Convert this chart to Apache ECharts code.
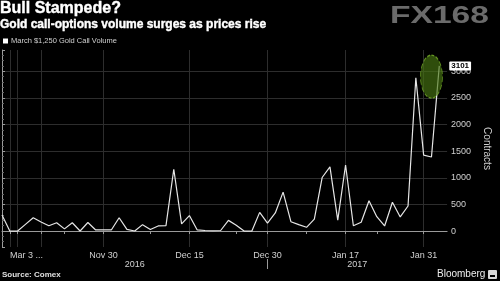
<!DOCTYPE html>
<html>
<head>
<meta charset="utf-8">
<script src="https://cdn.jsdelivr.net/npm/echarts@6/dist/echarts.min.js"></script>
<style>
  html, body { margin: 0; padding: 0; background: #000; }
  #chart { width: 500px; height: 281px; }
</style>
</head>
<body>
<div id="chart"></div>
<script>
// trading days on the category axis (last one is an empty slot at the right edge)
const dates = [
  '2016-03-01', '2016-03-02', '2016-03-03', '2016-11-15', '2016-11-16', '2016-11-17',
  '2016-11-18', '2016-11-21', '2016-11-22', '2016-11-23', '2016-11-25', '2016-11-28',
  '2016-11-29', '2016-11-30', '2016-12-01', '2016-12-02', '2016-12-05', '2016-12-06',
  '2016-12-07', '2016-12-08', '2016-12-09', '2016-12-12', '2016-12-13', '2016-12-14',
  '2016-12-15', '2016-12-16', '2016-12-19', '2016-12-20', '2016-12-21', '2016-12-22',
  '2016-12-23', '2016-12-27', '2016-12-28', '2016-12-29', '2016-12-30', '2017-01-03',
  '2017-01-04', '2017-01-05', '2017-01-06', '2017-01-09', '2017-01-10', '2017-01-11',
  '2017-01-12', '2017-01-13', '2017-01-17', '2017-01-18', '2017-01-19', '2017-01-20',
  '2017-01-23', '2017-01-24', '2017-01-25', '2017-01-26', '2017-01-27', '2017-01-30',
  '2017-01-31', '2017-02-01', '2017-02-02', '2017-02-03'
]

// March $1,250 gold call volume (contracts)
const volume = [
  300, 0, 0, 125, 250, 170, 100, 155, 40, 155,
  0, 160, 20, 20, 20, 250, 30, 0, 120, 30,
  95, 100, 1160, 135, 290, 20, 10, 5, 10, 200,
  110, 0, 0, 350, 150, 340, 730, 175, 120, 70,
  225, 1005, 1205, 205, 1240, 100, 165, 570, 270, 95,
  540, 265, 470, 2880, 1425, 1390, 3101, '-'
]

// x axis labels / ticks / gridlines (category indexes)
const labelIdx = [2, 13, 24, 34, 44, 54]
const labelText = ['Mar 3 ...', 'Nov 30', 'Dec 15', 'Dec 30', 'Jan 17', 'Jan 31']
const tickIdx = [1, 2, 5, 8, 13, 19, 24, 30, 34, 39, 44, 48, 54]
const gridIdx = [1, 2, 5, 13, 24, 34, 44, 54]

// year band: 2016 runs up to the Dec 30 slot
const years = ['2016', '2017']
const yearBreak = 34

// y axis: -300 .. 3400, labelled 0 .. 3000 every 500
const yMin = -300
const yMax = 3400

// highlighted spike (category index, contracts)
const highlight = [[55, 2900]]

const C = {
  bg: '#000000',
  line: '#e6e6e6',
  grid: '#2d2d2d',
  axis: '#9a9a9a',
  text: '#d0d0d0',
  logo: '#6b6b6b',
  olive: 'rgba(72,118,18,0.82)',
  oliveEdge: '#78b02a'
}
const FONT = 'Liberation Sans'

const last = dates.length - 1
const yearCenters = [yearBreak / 2, (yearBreak + last) / 2]

// horizontal gridlines: hide the ones sitting on the -300 / 3400 extent
const hLines = ['transparent', C.grid, C.grid, C.grid, C.grid, C.grid, C.grid, C.grid, 'transparent']

function buildOption() {
  const heavy = { color: '#ffffff', fontWeight: 'bold', fontFamily: FONT, textBorderColor: '#ffffff', textBorderWidth: 0.4 }
  return {
    backgroundColor: C.bg,
    animation: false,
    textStyle: { fontFamily: FONT },
    title: [
      { text: 'Bull Stampede?', left: 0, top: 1, padding: 0, textStyle: { ...heavy, fontSize: 16 } },
      { text: 'Gold call-options volume surges as prices rise', left: 0, top: 19, padding: 0,
        textStyle: { ...heavy, fontSize: 12 } },
      { text: 'Source: Comex', left: 2, top: 271, padding: 0,
        textStyle: { color: '#e0e0e0', fontSize: 8, fontWeight: 'bold', fontFamily: FONT } },
      { text: 'Bloomberg', left: 437, top: 269, padding: 0,
        textStyle: { color: '#eeeeee', fontSize: 10, fontWeight: 'normal', fontFamily: FONT } }
    ],
    graphic: [
      { type: 'text', x: 390, y: 5, scaleX: 1.46,
        style: { text: 'FX168', font: 'bold 23px "Liberation Sans"', fill: C.logo } },
      { type: 'rect', x: 488, y: 270, shape: { width: 9, height: 9, r: 1 }, style: { fill: '#d8d8d8' } },
      { type: 'rect', x: 490, y: 275, shape: { width: 5, height: 2 }, style: { fill: '#000' } }
    ],
    legend: {
      left: 3,
      top: 37,
      padding: 0,
      itemWidth: 5,
      itemHeight: 5,
      icon: 'rect',
      textStyle: { color: C.text, fontSize: 7.5, padding: [0, 0, 0, -2] },
      data: [{ name: 'March $1,250 Gold Call Volume', itemStyle: { color: '#ffffff' } }]
    },
    grid: { left: 2, right: 39, top: 50, bottom: 34 },
    xAxis: [
      {
        type: 'category',
        data: dates,
        boundaryGap: false,
        axisLine: { lineStyle: { color: C.axis, width: 1 } },
        axisTick: { show: true, length: 3, interval: (i) => tickIdx.includes(i), lineStyle: { color: C.axis } },
        axisLabel: {
          color: C.text,
          fontSize: 9,
          margin: 4,
          interval: (i) => labelIdx.includes(i),
          formatter: (v, i) => {
            const k = labelIdx.indexOf(i)
            if (k < 0) return ''
            return k === 0 ? '{a|' + labelText[k] + '}' : labelText[k]
          },
          rich: { a: { color: C.text, fontSize: 9, padding: [0, 0, 0, 18] } }
        },
        splitLine: { show: true, interval: (i) => gridIdx.includes(i), lineStyle: { color: C.grid, width: 1 } }
      },
      {
        type: 'value',
        min: 0,
        max: last,
        position: 'bottom',
        offset: 12,
        axisLine: { show: false },
        splitLine: { show: false },
        axisTick: { show: true, customValues: [yearBreak], length: 10, lineStyle: { color: C.axis } },
        axisLabel: {
          color: C.text,
          fontSize: 9,
          margin: 1,
          customValues: yearCenters,
          formatter: (v) => years[yearCenters.indexOf(v)] || ''
        }
      }
    ],
    yAxis: {
      type: 'value',
      position: 'right',
      min: yMin,
      max: yMax,
      splitNumber: 7,
      name: 'Contracts',
      nameLocation: 'middle',
      nameRotate: -90,
      nameGap: 34,
      nameTextStyle: { color: C.text, fontSize: 10 },
      axisLine: { show: true, lineStyle: { color: C.axis } },
      axisTick: { show: true, length: 3, lineStyle: { color: C.axis } },
      minorTick: { show: true, splitNumber: 5, length: 2, lineStyle: { color: '#666' } },
      axisLabel: {
        color: C.text,
        fontSize: 9,
        margin: 4,
        formatter: (v) => (v < 0 || v > 3000 ? '' : String(v))
      },
      splitLine: { show: true, lineStyle: { color: hLines, width: 1 } }
    },
    series: [
      {
        name: 'March $1,250 Gold Call Volume',
        type: 'line',
        data: volume,
        symbol: 'none',
        lineStyle: { color: C.line, width: 1.2 },
        itemStyle: { color: '#ffffff' },
        endLabel: {
          show: true,
          distance: 10,
          formatter: (p) => String(p.value),
          color: '#000',
          backgroundColor: '#ffffff',
          fontSize: 8,
          fontWeight: 'bold',
          padding: [1, 2, 0, 2],
          borderRadius: 1
        },
        z: 2
      },
      {
        name: 'highlight',
        type: 'scatter',
        data: highlight,
        symbol: 'path://M0,-1A1,1 0 1,1 0,1A1,1 0 1,1 0,-1Z',
        symbolSize: [22, 43],
        itemStyle: { color: C.olive, borderColor: C.oliveEdge, borderType: 'dashed', borderWidth: 1 },
        silent: true,
        z: 3
      }
    ]
  }
}

const chart = echarts.init(document.getElementById('chart'))
chart.setOption(buildOption())
</script>
</body>
</html>
